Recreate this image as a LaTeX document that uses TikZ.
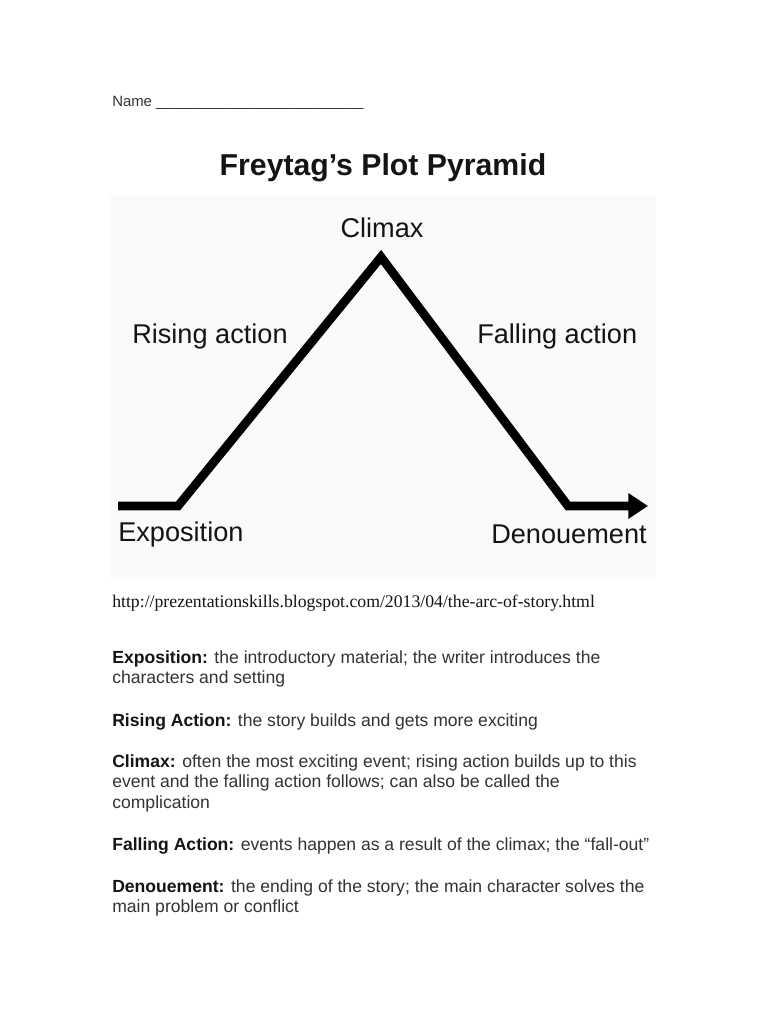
\documentclass[tikz,border=0pt]{standalone}
\usepackage{fontspec}
\setmainfont{Liberation Sans}
\newfontfamily\urlfont{Liberation Serif}
\usetikzlibrary{arrows.meta}

\definecolor{inkgray}{HTML}{333333}
\definecolor{inkdark}{HTML}{141414}
\definecolor{scanpaper}{HTML}{FAFAFA}

\tikzset{
  plotline/.style={line width=6.2pt,line join=miter,draw=black,
    -{Triangle[length=14pt,width=17.5pt]}},
  stage/.style={inner sep=0pt,text=inkdark,font=\fontsize{19.3pt}{22pt}\selectfont},
  term/.style={inner sep=0pt,anchor=north west,align=left,text=inkgray,
    font=\fontsize{12.5pt}{14.9pt}\selectfont},
}

\begin{document}
\begin{tikzpicture}[x=0.025cm,y=-0.025cm]
  \useasboundingbox[fill=white] (0,0) rectangle (768,1024);

  % header
  \node[inner sep=0pt,anchor=base west,text=inkgray,font=\fontsize{10.6pt}{12pt}\selectfont] (name) at (112,107)
    {Name \_\_\_\_\_\_\_\_\_\_\_\_\_\_\_\_\_\_\_\_\_\_\_\_\_};
  \node[inner sep=0pt,anchor=base,text=inkdark,font=\fontsize{21.5pt}{26pt}\bfseries] (title) at (383,176)
    {Freytag’s Plot Pyramid};

  % pyramid (scanned figure)
  \fill[scanpaper] (110,196) rectangle (656,577);
  \coordinate (start) at (118,506);
  \coordinate (rise) at (178,506);
  \coordinate (peak) at (381,257);
  \coordinate (fall) at (568,506);
  \coordinate (tip) at (648,506);
  \draw[plotline] (start) -- (rise) -- (peak) -- (fall) -- (tip);

  \node[stage,anchor=base] (climax) at (382,237) {Climax};
  \node[stage,anchor=base west] (rising) at (132,343) {Rising action};
  \node[stage,anchor=base west] (falling) at (477,343) {Falling action};
  \node[stage,anchor=base west] (expo) at (118,541) {Exposition};
  \node[stage,anchor=base west] (denoue) at (491,543) {Denouement};

  % source
  \node[inner sep=0pt,anchor=base west,text=inkdark,font=\urlfont\fontsize{12.6pt}{14pt}\selectfont] (source) at (112,607)
    {http://prezentationskills.blogspot.com/2013/04/the-arc-of-story.html};

  % definitions
  \node[term] (defexpo) at (112,650)
    {\textcolor{inkdark}{\textbf{Exposition:}} the introductory material; the writer introduces the\\characters and setting};
  \node[term] (defrising) at (112,713)
    {\textcolor{inkdark}{\textbf{Rising Action:}} the story builds and gets more exciting};
  \node[term] (defclimax) at (112,754)
    {\textcolor{inkdark}{\textbf{Climax:}} often the most exciting event; rising action builds up to this\\event and the falling action follows; can also be called the\\complication};
  \node[term] (deffalling) at (112,837)
    {\textcolor{inkdark}{\textbf{Falling Action:}} events happen as a result of the climax; the “fall-out”};
  \node[term] (defdenoue) at (112,879)
    {\textcolor{inkdark}{\textbf{Denouement:}} the ending of the story; the main character solves the\\main problem or conflict};
\end{tikzpicture}
\end{document}
